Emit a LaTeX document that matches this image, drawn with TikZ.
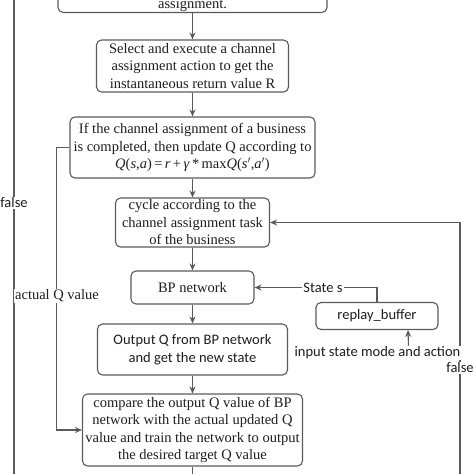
\documentclass[tikz,border=0pt]{standalone}
\usepackage{fontspec}
\setmainfont{Liberation Serif}
\newfontfamily\sansf{Carlito}
\usetikzlibrary{arrows.meta}
\definecolor{ln}{HTML}{5A5A5A}
\definecolor{tx}{HTML}{1E1E1E}
\begin{document}
\begin{tikzpicture}[x=1pt,y=-1pt,
  box/.style={draw=ln, line width=1.1pt, rounded corners=5pt, inner sep=0pt, align=center, text=tx,
    font=\fontsize{14.5}{17.5}\selectfont},
  sbox/.style={box, font=\sansf\fontsize{14.5}{17.5}\selectfont},
  arr/.style={draw=ln, line width=1.1pt, -{Stealth[length=7pt,width=6pt]}},
  ln/.style={draw=ln, line width=1.1pt},
  lab/.style={fill=white, inner sep=1pt, text=tx, font=\sansf\fontsize{14.5}{16}\selectfont},
  slab/.style={fill=white, inner sep=1pt, text=tx, font=\fontsize{14.5}{16}\selectfont}]
\useasboundingbox (0,0) rectangle (474,474);
% boxes
\node[box, minimum width=269pt, minimum height=60pt, anchor=south] (b1) at (192.5,13) {};
\node[text=tx, font=\fontsize{14.5}{17.5}\selectfont, anchor=base] (b1t) at (192.5,8) {assignment.};
\node[box, minimum width=192pt, minimum height=52pt] (b2) at (192.5,66)
  {Select and execute a channel\\assignment action to get the\\instantaneous return value R};
\node[box, minimum width=245pt, minimum height=61pt] (b3) at (192.5,147.5)
  {If the channel assignment of a business\\is completed, then update Q according to\\
   \textit{Q}(\textit{s},\textit{a})\,=\,\textit{r}\,+\,\textit{γ}\,*\,max\textit{Q}(\textit{s}$^{\prime}$,\textit{a}$^{\prime}$)};
\node[box, minimum width=154pt, minimum height=49pt] (b4) at (192.5,222.5)
  {cycle according to the\\channel assignment task\\of the business};
\node[box, minimum width=123pt, minimum height=33pt] (b5) at (192.5,287.5) {BP network};
\node[sbox, minimum width=190pt, minimum height=51pt] (b6) at (192.5,349.5)
  {Output Q from BP network\\and get the new state};
\node[box, minimum width=220pt, minimum height=72pt] (b7) at (192.5,430)
  {compare the output Q value of BP\\network with the actual updated Q\\value and train the network to output\\the desired target Q value};
\node[sbox, minimum width=122pt, minimum height=27pt] (rb) at (377,316) {replay\_buffer};
% coordinates
\coordinate (lt) at (14,-5);
\coordinate (lb) at (14,480);
\coordinate (bb) at (192.5,480);
\coordinate (rbot) at (460,480);
% connectors
\draw[ln] (lt) -- (lb);
\node[lab] (f1) at (14,203) {false};
\draw[arr] (b1.south) -- (b2.north);
\draw[arr] (b2.south) -- (b3.north);
\draw[arr] (b3.south) -- (b4.north);
\draw[arr] (b4.south) -- (b5.north);
\draw[arr] (b5.south) -- (b6.north);
\draw[arr] (b6.south) -- (b7.north);
\draw[ln] (b7.south) -- (bb);
\draw[arr] (b3.west) -- ++(-13,0) |- (b7.west);
\node[slab] (aq) at (57,296) {actual Q value};
\draw[arr] (rbot) |- (b4.east);
\node[lab] (f2) at (460,368) {false};
\node[lab] (ip) at (377.5,353) {input state mode and action};
\draw[arr] (rb.north) |- (b5.east);
\node[lab] (ss) at (323,288) {State s};
\draw[arr] ([xshift=31pt]ip.north) -- ([xshift=31pt]rb.south);
\end{tikzpicture}
\end{document}
